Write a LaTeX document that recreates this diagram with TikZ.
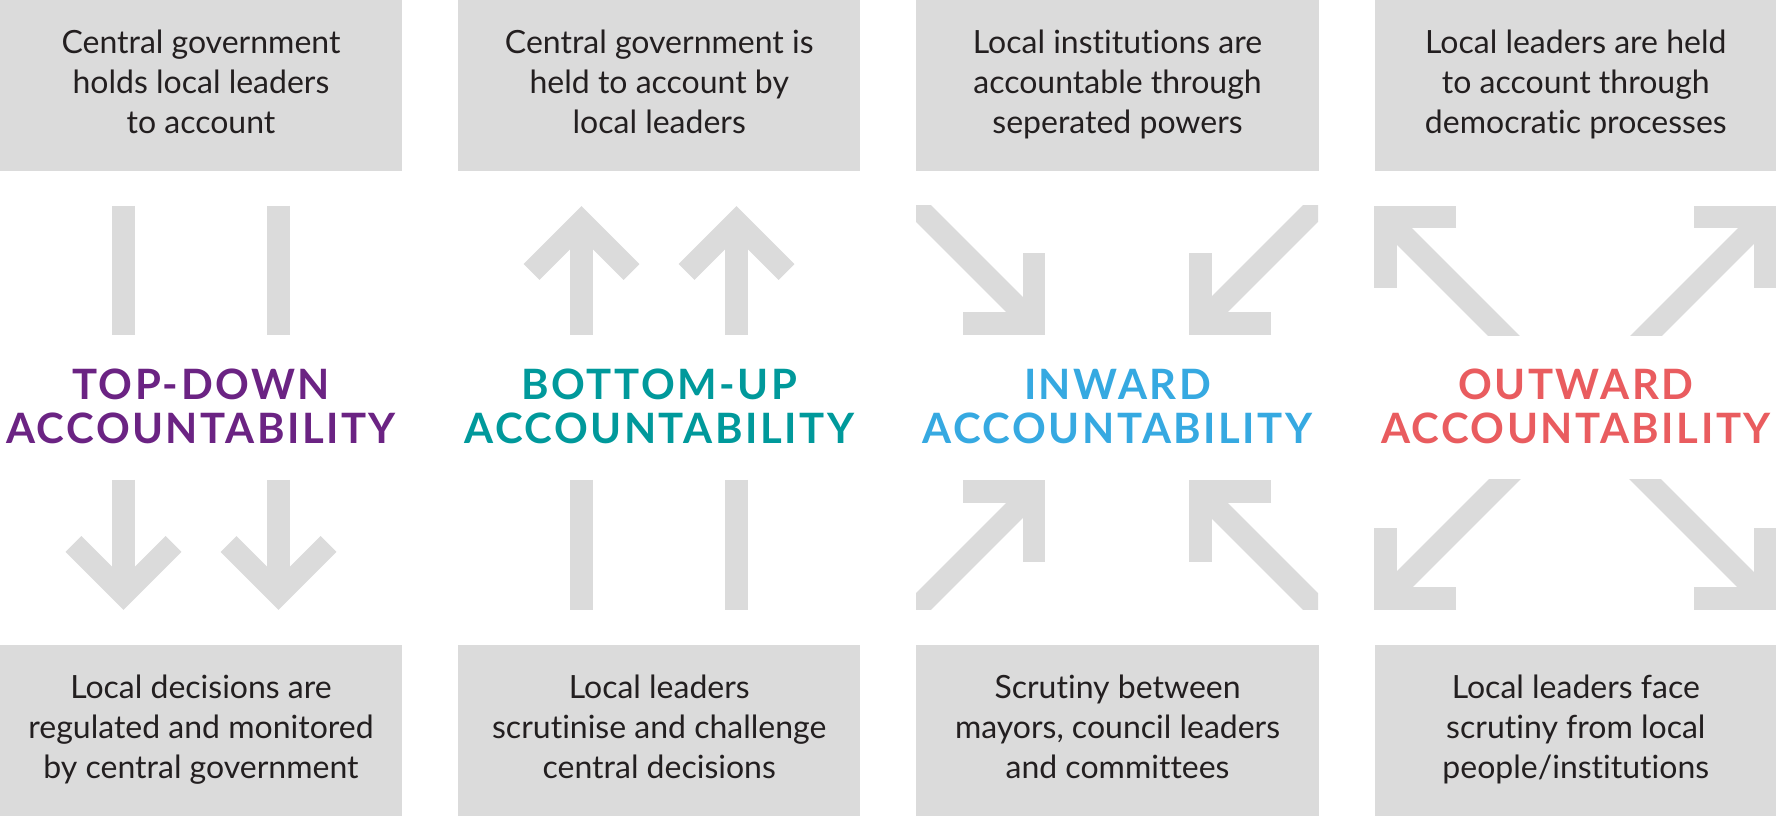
\documentclass[tikz,border=0pt]{standalone}
\usepackage{fontspec}
\setmainfont{Lato}[Ligatures=NoCommon]
\newfontfamily\titlefont[LetterSpace=6]{Lato}
\usepackage{xcolor}
\usetikzlibrary{positioning}

\definecolor{panelgrey}{HTML}{DBDBDB}
\definecolor{inkgrey}{HTML}{231F20}
\definecolor{tdpurple}{HTML}{6B2383}
\definecolor{buteal}{HTML}{00999B}
\definecolor{inblue}{HTML}{36A9E1}
\definecolor{outred}{HTML}{E95C5F}

\tikzset{
  panel/.style={rectangle, fill=panelgrey, minimum width=4.02cm, minimum height=1.71cm,
    inner sep=0pt, align=center, text=inkgrey, font=\fontsize{9.1}{11.4}\selectfont},
  heading/.style={align=center, inner sep=0pt, font=\titlefont\bfseries\fontsize{11.9}{12.5}\selectfont},
  bar/.style={draw=panelgrey, line width=0.225cm},
}

\begin{document}
\begin{tikzpicture}[x=0.01cm, y=-0.01cm, node distance=4.58cm]
    \useasboundingbox (0,0) rectangle (1776,816);

    % what each kind of accountability means
    \node[panel] (tdtop) at (201,85.5) {\strut Central government\\holds local leaders\\to account\strut};
    \node[panel, right of=tdtop] (butop) {\strut Central government is\\held to account by\\local leaders\strut};
    \node[panel, right of=butop] (intop) {\strut Local institutions are\\accountable through\\seperated powers\strut};
    \node[panel, right of=intop] (outtop) {\strut Local leaders are held\\to account through\\democratic processes\strut};

    % how it works in practice
    \node[panel, below of=tdtop, node distance=6.45cm] (tdbot) {\strut Local decisions are\\regulated and monitored\\by central government\strut};
    \node[panel, right of=tdbot] (bubot) {\strut Local leaders\\scrutinise and challenge\\central decisions\strut};
    \node[panel, right of=bubot] (inbot) {\strut Scrutiny between\\mayors, council leaders\\and committees\strut};
    \node[panel, right of=inbot] (outbot) {\strut Local leaders face\\scrutiny from local\\people/institutions\strut};

    % headings
    \node[heading, text=tdpurple, below of=tdtop, node distance=3.21cm] (tdname) {TOP-DOWN\\ACCOUNTABILITY};
    \node[heading, text=buteal, below of=butop, node distance=3.21cm] (buname) {BOTTOM-UP\\ACCOUNTABILITY};
    \node[heading, text=inblue, below of=intop, node distance=3.21cm] (inname) {INWARD\\ACCOUNTABILITY};
    \node[heading, text=outred, below of=outtop, node distance=3.21cm] (outname) {OUTWARD\\ACCOUNTABILITY};

    % top-down: bars above, heads below
    \foreach \x in {123.5,278.5} {
        \draw[bar] (\x,206) -- (\x,335);
        \draw[bar] (\x,480) -- (\x,594);
        \draw[bar] ({\x-50},544) -- (\x,594) -- ({\x+50},544);
    }

    % bottom-up: heads above, bars below
    \foreach \x in {581.5,736.5} {
        \draw[bar] (\x,222) -- (\x,335);
        \draw[bar] ({\x-50},272) -- (\x,222) -- ({\x+50},272);
        \draw[bar] (\x,480) -- (\x,610);
    }

    % inward and outward: corner heads
    \foreach \cx/\cy/\sx/\sy/\rx/\ry in {1045/335/1/1/916/206, 1189/335/-1/1/916/206,
        1045/480/1/-1/916/480, 1189/480/-1/-1/916/480,
        1374/206/-1/-1/1374/206, 1776/206/1/-1/1374/206,
        1374/610/-1/1/1374/480, 1776/610/1/1/1374/480} {
        \begin{scope}
            \clip (\rx,\ry) rectangle ++(402,130);
            \draw[bar] ({\cx-(\sx)*82},{\cy-(\sy)*11.25}) -- ({\cx-(\sx)*11.25},{\cy-(\sy)*11.25})
                -- ({\cx-(\sx)*11.25},{\cy-(\sy)*82});
            \draw[bar] ({\cx-(\sx)*11.25},{\cy-(\sy)*11.25}) -- ++({-(\sx)*250},{-(\sy)*250});
        \end{scope}
    }
\end{tikzpicture}
\end{document}
